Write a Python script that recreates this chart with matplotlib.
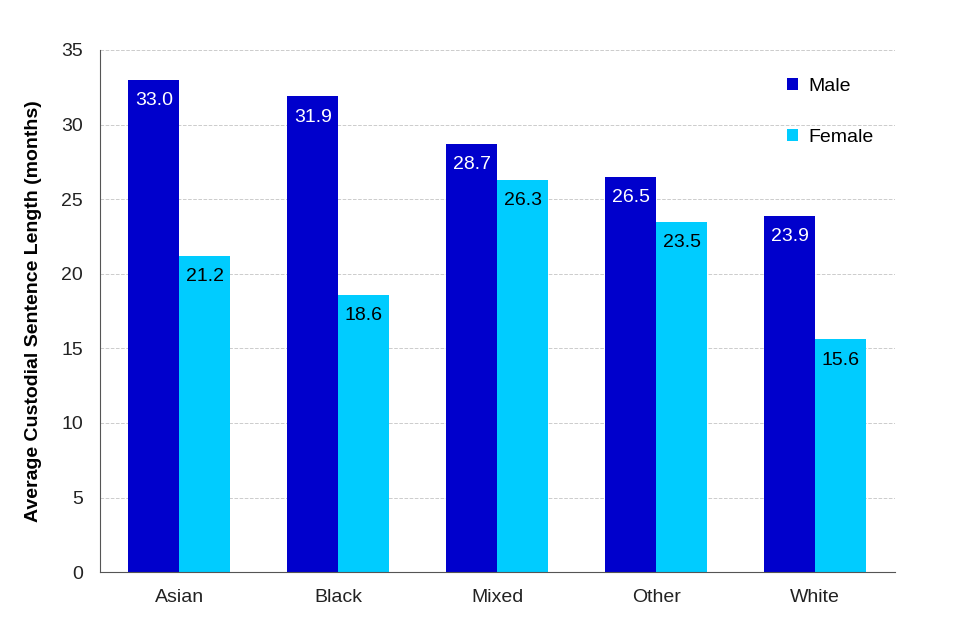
import numpy as np
import matplotlib.pyplot as plt

plt.rcParams['font.family'] = ['Liberation Sans', 'DejaVu Sans']

categories = ['Asian', 'Black', 'Mixed', 'Other', 'White']
male = [33.0, 31.9, 28.7, 26.5, 23.9]
female = [21.2, 18.6, 26.3, 23.5, 15.6]

fig = plt.figure(figsize=(9.6, 6.4), dpi=100)
ax = fig.add_axes([0.104, 0.106, 0.828, 0.816])

x = np.arange(len(categories))
w = 0.32
bm = ax.bar(x - w / 2, male, w, color='#0000CC', label='Male', zorder=2)
bf = ax.bar(x + w / 2, female, w, color='#00CCFF', label='Female', zorder=2)

for rect, v in zip(bm, male):
    ax.annotate(f'{v:.1f}', (rect.get_x() + rect.get_width() / 2, v),
                xytext=(0, -9), textcoords='offset points', ha='center', va='top',
                color='white', fontsize=14)
for rect, v in zip(bf, female):
    ax.annotate(f'{v:.1f}', (rect.get_x() + rect.get_width() / 2, v),
                xytext=(0, -9), textcoords='offset points', ha='center', va='top',
                color='black', fontsize=14)

ax.set_xlim(-0.5, 4.5)
ax.set_ylim(0, 35)
ax.set_yticks(range(0, 36, 5))
ax.set_xticks(x)
ax.set_xticklabels(categories)
ax.tick_params(length=0, labelsize=14, colors='#222222')
ax.tick_params(axis='x', pad=12)
ax.tick_params(axis='y', pad=12)
ax.set_ylabel('Average Custodial Sentence Length (months)', fontsize=14,
              fontweight='bold', labelpad=14)

ax.grid(axis='y', linestyle='--', color='#cccccc', linewidth=0.7, zorder=0)
for s in ['top', 'right']:
    ax.spines[s].set_visible(False)
for s in ['left', 'bottom']:
    ax.spines[s].set_color('#555555')

leg = ax.legend(loc='upper right', bbox_to_anchor=(0.995, 0.98), frameon=False,
                fontsize=14, handlelength=0.6, handleheight=0.6, handletextpad=0.5,
                labelspacing=1.75)

fig.savefig('out.png', dpi=100)
